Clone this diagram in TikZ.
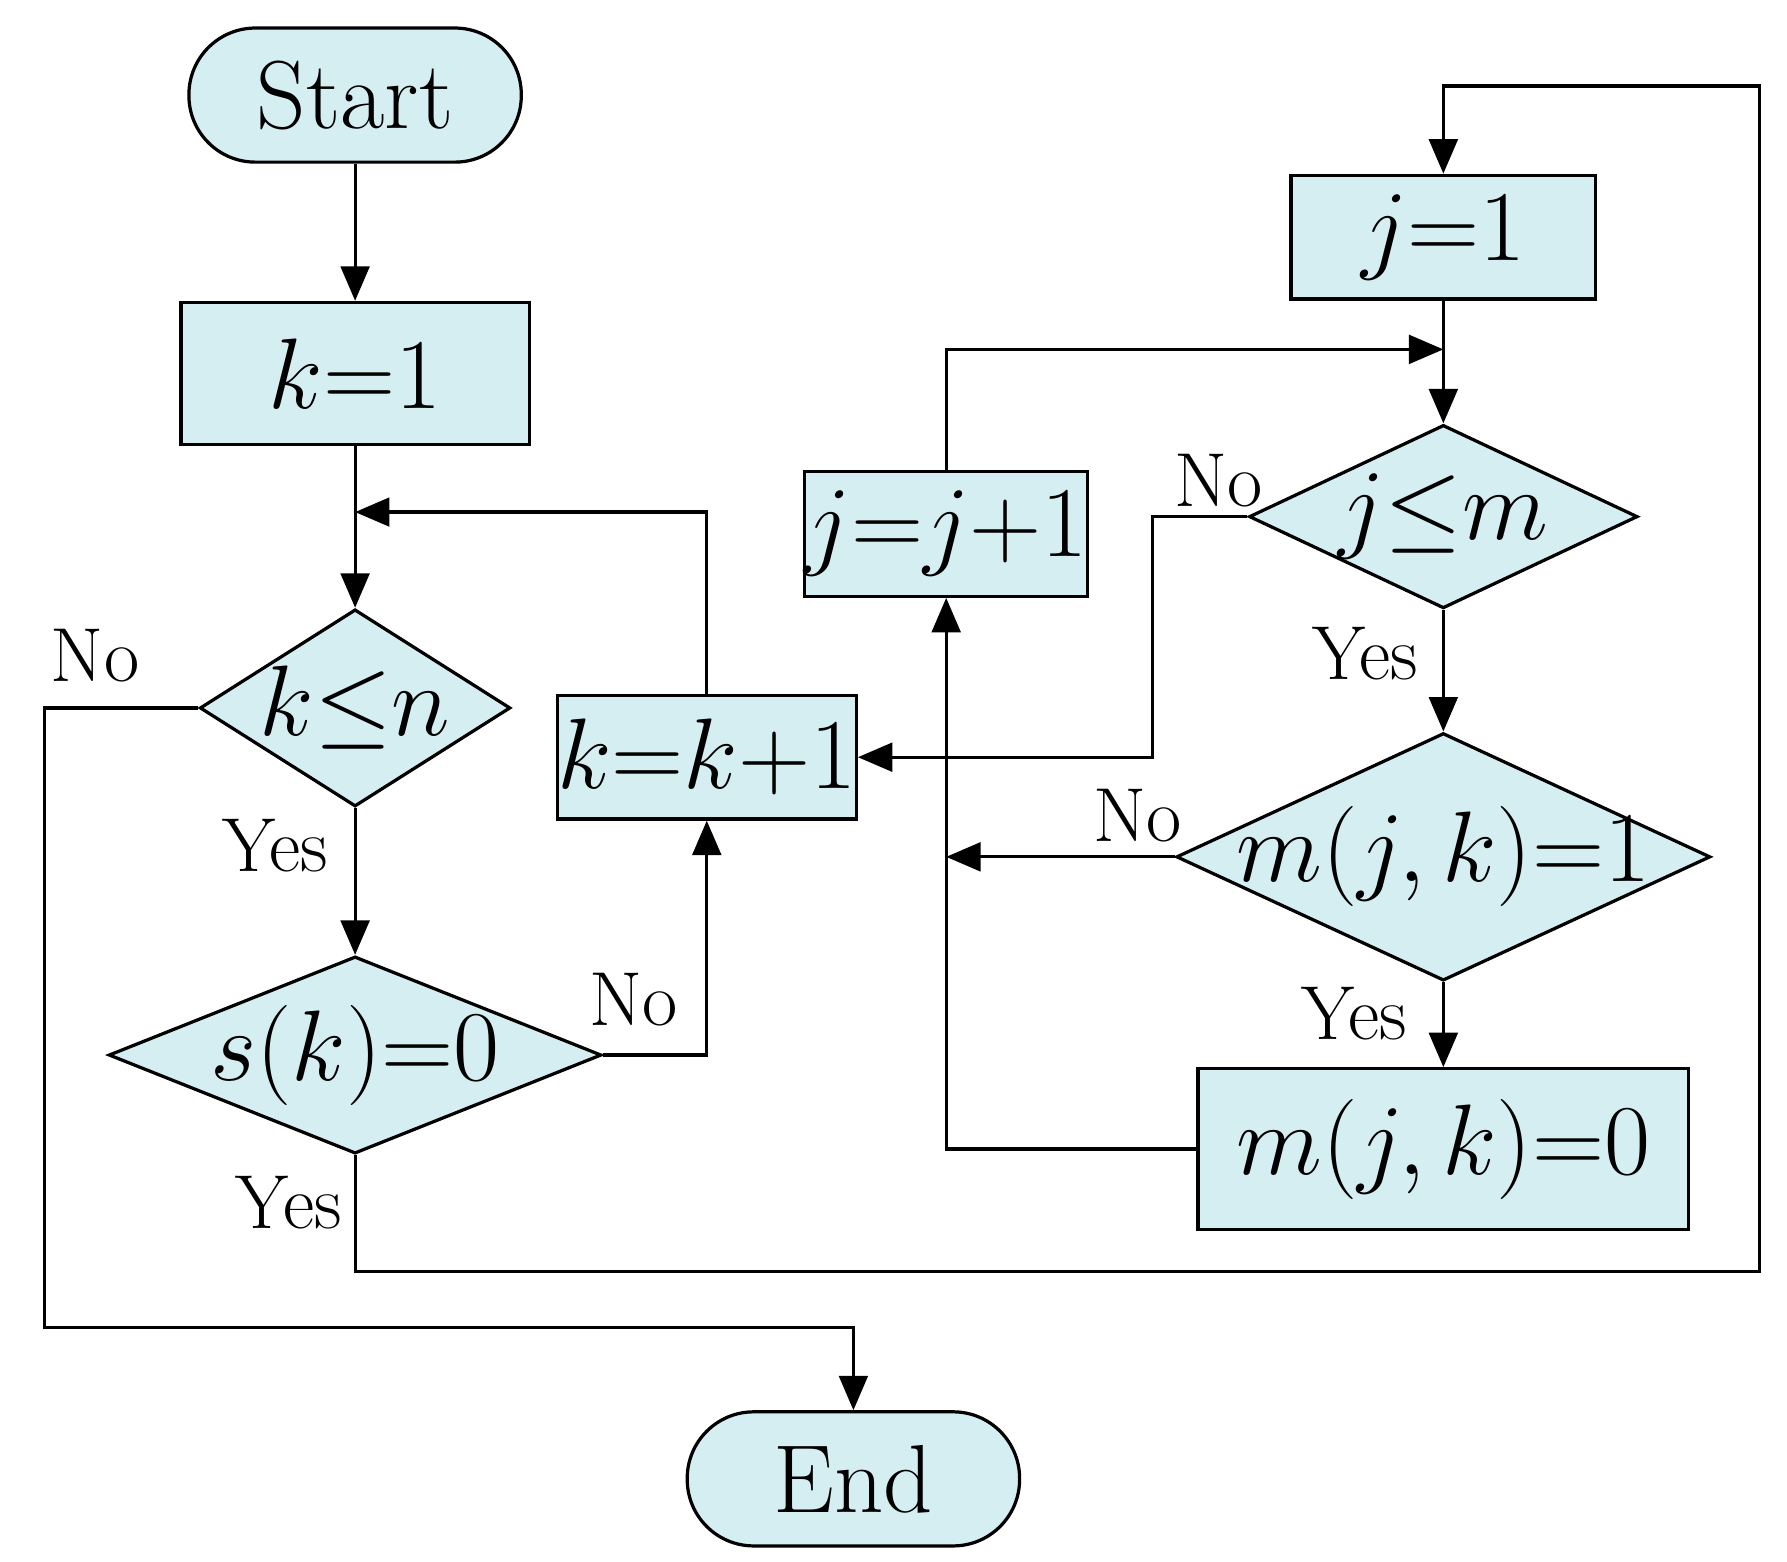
\documentclass[tikz,border=0pt]{standalone}
\usetikzlibrary{shapes.geometric,arrows.meta}
\definecolor{boxfill}{RGB}{213,238,242}
\begin{document}
\begin{tikzpicture}[x=0.01cm,y=-0.01cm,
  box/.style={draw,fill=boxfill,line width=0.8pt,inner sep=0pt,font=\fontsize{24}{28}\selectfont},
  term/.style={box,rounded corners=0.58cm},
  dec/.style={draw,fill=boxfill,line width=0.8pt,diamond,inner sep=0pt,font=\fontsize{24}{28}\selectfont},
  lbl/.style={font=\fontsize{19}{22}\selectfont},
  line/.style={line width=0.8pt},
  arr/.style={line,-{Triangle[length=0.3cm,width=0.25cm]}}]
\useasboundingbox (0,0) rectangle (1560,1363);
% nodes
\node[term,minimum width=2.9cm,minimum height=1.17cm] (start) at (310,83) {Start};
\node[box,minimum width=3.04cm,minimum height=1.24cm] (k1) at (310,326) {$k{=}1$};
\node[dec,minimum width=2.71cm,minimum height=1.72cm,aspect=1.58] (kn) at (310,618) {};
\node at (kn) {\fontsize{24}{28}\selectfont$k{\le}n$};
\node[dec,minimum width=4.3cm,minimum height=1.72cm,aspect=2.5] (sk) at (310,921) {};
\node at (sk) {\fontsize{24}{28}\selectfont$s(k){=}0$};
\node[box,minimum width=2.4cm,minimum height=1.08cm] (kk) at (617,661) {$k{=}k{+}1$};
\node[box,minimum width=2.15cm,minimum height=1.09cm] (jj) at (826,466) {$j{=}j{+}1$};
\node[box,minimum width=2.66cm,minimum height=1.08cm] (j1) at (1260,207) {$j{=}1$};
\node[dec,minimum width=3.39cm,minimum height=1.6cm,aspect=2.1] (jm) at (1260,451) {};
\node at (jm) {\fontsize{24}{28}\selectfont$j{\le}m$};
\node[dec,minimum width=4.66cm,minimum height=2.16cm,aspect=2.16] (m1) at (1260,748) {};
\node at (m1) {\fontsize{24}{28}\selectfont$m(j,k){=}1$};
\node[box,minimum width=4.28cm,minimum height=1.4cm] (m0) at (1260,1003) {$m(j,k){=}0$};
\node[term,minimum width=2.9cm,minimum height=1.17cm] (end) at (745,1291) {End};
% coordinates
\coordinate (c1) at (310,447);
\coordinate (c2) at (1260,305);
\coordinate (c3) at (826,748);
% connectors
\draw[arr] (start) -- (k1);
\draw[arr] (k1) -- (kn.north);
\draw[arr] (kk.north) |- (c1);
\draw[arr] (kn.south) -- (sk.north);
\draw[arr] (sk.east) -| (kk.south);
\draw[arr] (kn.west) -- (39,618) -- (39,1159) -| (end.north);
\draw[arr] (sk.south) -- (310,1110) -- (1536,1110) -- (1536,75) -| (j1.north);
\draw[arr] (j1.south) -- (jm.north);
\draw[arr] (jj.north) |- (c2);
\draw[arr] (jm.west) -- (1006,451) |- (kk.east);
\draw[arr] (jm.south) -- (m1.north);
\draw[arr] (m1.west) -- (c3);
\draw[arr] (m1.south) -- (m0.north);
\draw[arr] (m0.west) -| (jj.south);
% labels
\node[lbl] at (83,572) {No};
\node[lbl] at (240,738) {Yes};
\node[lbl] at (553,873) {No};
\node[lbl] at (252,1050) {Yes};
\node[lbl] at (1064,420) {No};
\node[lbl] at (1192,571) {Yes};
\node[lbl] at (993,712) {No};
\node[lbl] at (1182,885) {Yes};
\end{tikzpicture}
\end{document}
